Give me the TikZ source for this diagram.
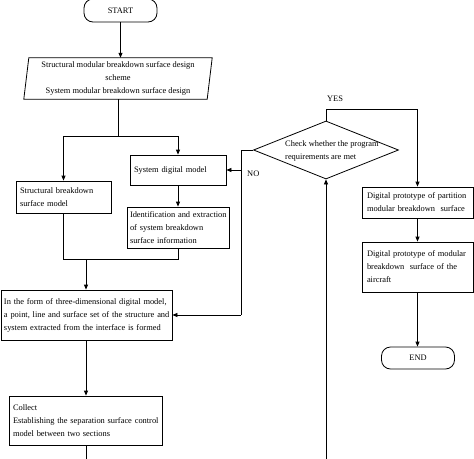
\documentclass[tikz,border=0pt]{standalone}
\usepackage{fontspec}
\setmainfont{Liberation Serif}
\usetikzlibrary{arrows.meta,shapes.geometric}
\begin{document}
\begin{tikzpicture}[x=1pt,y=-1pt,
  every node/.style={font=\fontsize{8.4}{13}\selectfont, inner sep=0pt},
  box/.style={draw, line width=0.8pt, inner xsep=4pt, align=left},
  term/.style={draw, line width=0.8pt, rounded corners=9pt, align=center},
  conn/.style={line width=0.8pt},
  arr/.style={conn, -{Triangle[length=5pt,width=4pt]}},
  lbl/.style={font=\fontsize{8.4}{10}\selectfont}]
\useasboundingbox (0,0) rectangle (474,458);
\clip (0,0) rectangle (474,458);
\fill[white] (0,0) rectangle (474,458);

% nodes
\node[term, minimum width=73pt, minimum height=23pt] (start) at (120.5,10.5) {START};
\node[minimum width=188pt, minimum height=41pt, align=center] (para) at (118,78.5)
  {Structural modular breakdown surface design\\scheme\\System modular breakdown surface design};
\draw[conn] ([xshift=5pt]para.north west) -- (para.north east)
  -- ([xshift=-5pt]para.south east) -- (para.south west) -- cycle;
\node[box, minimum width=96pt, minimum height=30pt, text width=88pt] (sdm) at (178,170)
  {\mbox{System digital model}};
\node[box, minimum width=95pt, minimum height=32pt, text width=87pt] (sbm) at (63.5,197)
  {\mbox{Structural breakdown}\\\mbox{surface model}};
\node[box, minimum width=102pt, minimum height=41pt, text width=96pt, inner xsep=3pt] (ident) at (178,227.5)
  {\mbox{Identification and extraction}\\\mbox{of system breakdown}\\\mbox{surface information}};
\node[box, minimum width=171pt, minimum height=50pt, text width=165pt, inner xsep=3pt] (three) at (86.5,315)
  {\mbox{In the form of three-dimensional digital model,}\\\mbox{a point, line and surface set of the structure and}\\\mbox{system extracted from the interface is formed}};
\node[box, minimum width=153pt, minimum height=49pt, text width=146pt, inner xsep=3.5pt] (collect) at (86,420.5)
  {\mbox{Collect}\\\mbox{Establishing the separation surface control}\\\mbox{model between two sections}};
\node[draw, line width=0.8pt, shape=diamond, minimum width=145pt, minimum height=58pt] (dia) at (326,150) {};
\node[align=left, anchor=west] (diatext) at (285,150.5)
  {Check whether the program\\requirements are met};
\node[box, minimum width=111pt, minimum height=31pt, text width=101pt, inner xsep=5pt] (r1) at (417.5,202.5)
  {\mbox{Digital prototype of partition}\\\mbox{modular breakdown\ \ surface}};
\node[box, minimum width=111pt, minimum height=50pt, text width=101pt, inner xsep=5pt] (r2) at (417.5,267)
  {\mbox{Digital prototype of modular}\\\mbox{breakdown\ \ surface of the}\\\mbox{aircraft}};
\node[term, minimum width=73pt, minimum height=22pt] (end) at (418,358) {END};
\node[lbl, anchor=center] (yes) at (335,99) {YES};
\node[lbl, anchor=west] (no) at (247,174) {NO};

% coordinates
\coordinate (split) at (118,136);
\coordinate (join) at (86,259);
\coordinate (noturn) at (241,150);
\coordinate (nodown) at (241,315);
\coordinate (nobranch) at (241,170);
\coordinate (yesup) at (326,109);
\coordinate (yesright) at (417.5,109);
\coordinate (bottomin) at (326,462);
\coordinate (bottomout) at (86,462);

% connectors
\draw[arr] (start.south) -- (start.south |- para.north);
\draw[conn] (para.south) -- (split);
\draw[conn] (split -| sbm.north) -- (split -| sdm.north);
\draw[arr] (split -| sbm.north) -- (sbm.north);
\draw[arr] (split -| sdm.north) -- (sdm.north);
\draw[arr] (sdm.south) -- (ident.north);
\draw[conn] (sbm.south) -- (sbm.south |- join) -- (ident.south |- join) -- (ident.south);
\draw[arr] (join) -- (join |- three.north);
\draw[arr] (join |- three.south) -- (collect.north);
\draw[conn] (collect.south) -- (bottomout);
\draw[conn] (dia.west) -- (noturn) -- (nodown);
\draw[arr] (nodown) -- (three.east);
\draw[arr] (nobranch) -- (sdm.east);
\draw[conn] (dia.north) -- (yesup) -- (yesright);
\draw[arr] (yesright) -- (r1.north);
\draw[arr] (r1.south) -- (r2.north);
\draw[arr] (r2.south) -- (r2.south |- end.north);
\draw[arr] (bottomin) -- (dia.south);
\end{tikzpicture}
\end{document}
